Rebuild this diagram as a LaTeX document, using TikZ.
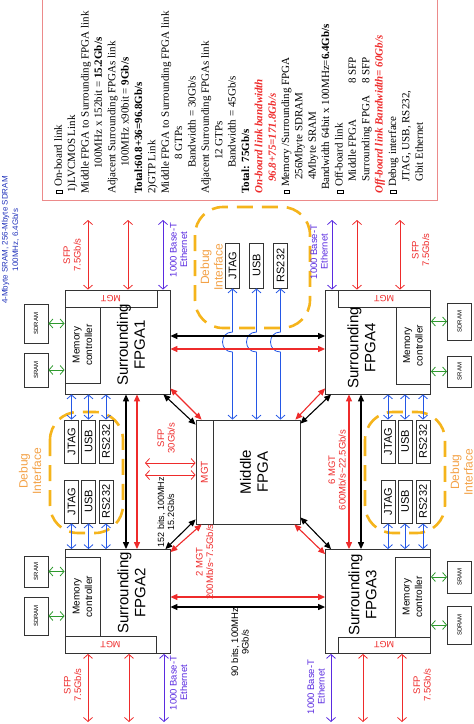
\documentclass[tikz,border=0pt]{standalone}
\usepackage{fontspec}
\setmainfont{Liberation Serif}
\setsansfont{Liberation Sans}
\usetikzlibrary{calc,arrows.meta}

\definecolor{lkred}{HTML}{EE2B2B}
\definecolor{lkpurple}{HTML}{5A2BE0}
\definecolor{lkblue}{HTML}{2457E6}
\definecolor{lkgreen}{HTML}{2E9A2E}
\definecolor{dbgorange}{HTML}{F5B41C}
\definecolor{dbgtext}{HTML}{F3A248}
\definecolor{legpink}{HTML}{EC8A8A}
\definecolor{memblue}{HTML}{2233BB}

\newcommand{\lgbox}{{\fboxsep=0pt\fboxrule=0.6pt\fbox{\rule{0pt}{5pt}\rule{3pt}{0pt}}}}

\tikzset{
	box/.style={draw=black!80, line width=0.8pt, fill=white, inner sep=0pt, font=\sffamily},
	fpga/.style={box, minimum width=105pt, minimum height=104pt},
	fpgatxt/.style={rotate=90, align=center, inner sep=0pt, font=\sffamily\fontsize{15}{17}\selectfont},
	mgtbox/.style={box, text=lkred, font=\sffamily\fontsize{9}{10}\selectfont},
	ctrlbox/.style={box, rotate=90, align=center, font=\sffamily\fontsize{10}{12.5}\selectfont},
	membox/.style={box, rotate=90, minimum width=#1, minimum height=24pt, font=\sffamily\fontsize{6}{7}\selectfont},
	dbgbox/.style={box, rotate=90, minimum width=#1, minimum height=14pt, font=\sffamily\fontsize{11}{12}\selectfont},
	lbl/.style={rotate=90, align=center, inner sep=0pt, font=\sffamily\fontsize{9.5}{10.5}\selectfont},
	dbglbl/.style={lbl, text=dbgtext, font=\sffamily\fontsize{12}{13.5}\selectfont},
	legend/.style={rotate=90, anchor=north west, align=left, inner sep=0pt, font=\fontsize{11}{13.37}\selectfont},
	onlink/.style={line width=1.1pt, {Triangle[length=7pt,width=6pt]}-{Triangle[length=7pt,width=6pt]}},
	offlink/.style={line width=0.8pt, {Straight Barb[length=4pt,width=9pt]}-{Straight Barb[length=4pt,width=9pt]}},
	memlink/.style={offlink, lkgreen},
	dbglink/.style={offlink, lkblue},
	dbgline/.style={dbgorange, line width=2.6pt, dash pattern=on 16pt off 9pt, rounded corners=28pt},
}

\begin{document}
\begin{tikzpicture}[x=1pt, y=-1pt]
	\useasboundingbox (0,0) rectangle (474,724);
	
	%%%%% LEGEND %%%%%
	\draw[legpink, line width=1pt] (42,-2) -- (42,200) -- (437,200) -- (437,-2);
	\node[legend] (legtxt) at (54,194) {%
		\lgbox\ On-board link\\
		\hspace*{1pt}1)LVCMOS Link\\
		Middle FPGA to Surrounding FPGA link\\
		\hspace*{25pt}100MHz x 152bit = \textbf{15.2Gb/s}\\
		Adjacent Surrounding FPGAs link\\
		\hspace*{27pt}100MHz x90bit = \textbf{9Gb/s}\\
		\textbf{Total:60.8+36=96.8Gb/s}\\
		2)GTP Link\\
		Middle FPGA to Surrounding FPGA link\\
		\hspace*{34pt}8 GTPs\\
		\hspace*{26pt}Bandwidth = 30Gb/s\\
		Adjacent Surrounding FPGAs link\\
		\hspace*{34pt}12 GTPs\\
		\hspace*{26pt}Bandwidth = 45Gb/s\\
		\textbf{Total: 75Gb/s}\\
		\textcolor{lkred}{\bfseries\itshape On-board link bandwidth}\\
		\hspace*{12pt}\textcolor{lkred}{\bfseries\itshape 96.8+75=171.8Gb/s}\\
		\lgbox\ Memory /Surrounding FPGA\\
		\hspace*{14pt}256Mbyte SDRAM\\
		\hspace*{14pt}4Mbyte SRAM\\
		\hspace*{4pt}Bandwidth 64bit x 100MHz=\textbf{6.4Gb/s}\\
		\lgbox\ Off-board link\\
		\hspace*{12pt}\makebox[98pt][l]{Middle FPGA}8 SFP\\
		\hspace*{12pt}\makebox[98pt][l]{Surrounding FPGA}8 SFP\\
		\textcolor{lkred}{\bfseries\itshape Off-board link Bandwidth= 60Gb/s}\\
		\lgbox\ Debug interface\\
		\hspace*{12pt}JTAG, USB, RS232,\\
		\hspace*{12pt}Gbit Ethernet};
	
	%%%%% DEBUG AREAS %%%%%
	\draw[dbgline] (195,207) rectangle (310,328);
	\draw[dbgline] (50,412) rectangle (123,533);
	\draw[dbgline] (365,412) rectangle (445,533);
	
	%%%%% FPGAS %%%%%
	\node[fpga] (fpga1) at (117.5,342) {};
	\node[fpga] (fpga4) at (378,342) {};
	\node[fpga] (fpga2) at (117.5,601.5) {};
	\node[fpga] (fpga3) at (378,601.5) {};
	\node[fpga, minimum width=104pt] (mid) at (248,472) {};
	
	\node[mgtbox, rotate=180, minimum width=92pt, minimum height=17pt] (mgt1) at (111,298.5) {MGT};
	\node[mgtbox, rotate=180, minimum width=92pt, minimum height=17pt] (mgt4) at (384,298.5) {MGT};
	\node[mgtbox, rotate=180, minimum width=91pt, minimum height=17pt] (mgt2) at (110.5,644.5) {MGT};
	\node[mgtbox, rotate=180, minimum width=92pt, minimum height=16pt] (mgt3) at (384,645) {MGT};
	\node[mgtbox, rotate=90, minimum width=104pt, minimum height=17pt, font=\sffamily\fontsize{10}{11}\selectfont] (mgtm) at (204.5,472) {MGT};
	
	\node[ctrlbox, minimum width=76pt, minimum height=35pt] (mc1) at (82.5,345) {Memory\\controller};
	\node[ctrlbox, minimum width=77pt, minimum height=34pt] (mc4) at (413,345.5) {Memory\\controller};
	\node[ctrlbox, minimum width=79pt, minimum height=35pt] (mc2) at (82.5,596.5) {Memory\\controller};
	\node[ctrlbox, minimum width=80pt, minimum height=35pt] (mc3) at (412.5,597) {Memory\\controller};
	
	\node[fpgatxt] (fpga1txt) at (131,345) {Surrounding\\FPGA1};
	\node[fpgatxt] (fpga4txt) at (361.5,348) {Surrounding\\FPGA4};
	\node[fpgatxt] (fpga2txt) at (131.5,593) {Surrounding\\FPGA2};
	\node[fpgatxt] (fpga3txt) at (362.5,595) {Surrounding\\FPGA3};
	\node[fpgatxt] (midtxt) at (254,472) {Middle\\FPGA};
	
	%%%%% MEMORIES %%%%%
	\node[membox=39pt] (sd1) at (36,323.5) {SDRAM};
	\node[membox=34pt] (sr1) at (36,370) {SRAM};
	\node[membox=31pt] (sr2) at (36,571.5) {SRAM};
	\node[membox=38pt] (sd2) at (36,616) {SDRAM};
	\node[membox=37pt] (sd4) at (459.5,321.5) {SDRAM};
	\node[membox=31pt] (sr4) at (459.5,371.5) {SRAM};
	\node[membox=32pt] (sr3) at (459.5,577) {SRAM};
	\node[membox=38pt] (sd3) at (459.5,625) {SDRAM};
	
	\draw[memlink] (sd1) -- (fpga1.west |- sd1);
	\draw[memlink] (sr1) -- (fpga1.west |- sr1);
	\draw[memlink] (sr2) -- (fpga2.west |- sr2);
	\draw[memlink] (sd2) -- (fpga2.west |- sd2);
	\draw[memlink] (sd4) -- (fpga4.east |- sd4);
	\draw[memlink] (sr4) -- (fpga4.east |- sr4);
	\draw[memlink] (sr3) -- (fpga3.east |- sr3);
	\draw[memlink] (sd3) -- (fpga3.east |- sd3);
	
	%%%%% DEBUG PORTS %%%%%
	\node[dbgbox=43pt] (jt1) at (71.5,441.5) {JTAG};
	\node[dbgbox=43pt] (us1) at (88.5,441.5) {USB};
	\node[dbgbox=43pt] (rs1) at (106,441.5) {RS232};
	\node[dbgbox=43pt] (jt2) at (71.5,501.5) {JTAG};
	\node[dbgbox=43pt] (us2) at (88.5,501.5) {USB};
	\node[dbgbox=43pt] (rs2) at (106,501.5) {RS232};
	\node[dbgbox=43pt] (jt4) at (388,441.5) {JTAG};
	\node[dbgbox=43pt] (us4) at (405,441.5) {USB};
	\node[dbgbox=43pt] (rs4) at (423,441.5) {RS232};
	\node[dbgbox=43pt] (jt3) at (388,501.5) {JTAG};
	\node[dbgbox=43pt] (us3) at (405,501.5) {USB};
	\node[dbgbox=43pt] (rs3) at (423,501.5) {RS232};
	\node[dbgbox=45pt] (jtm) at (232.5,265.5) {JTAG};
	\node[dbgbox=45pt] (usm) at (256.5,265.5) {USB};
	\node[dbgbox=45pt] (rsm) at (280.5,265.5) {RS232};
	
	\draw[dbglink] (fpga1.south -| jt1) -- (jt1);
	\draw[dbglink] (fpga1.south -| us1) -- (us1);
	\draw[dbglink] (fpga1.south -| rs1) -- (rs1);
	\draw[dbglink] (jt2) -- (fpga2.north -| jt2);
	\draw[dbglink] (us2) -- (fpga2.north -| us2);
	\draw[dbglink] (rs2) -- (fpga2.north -| rs2);
	\draw[dbglink] (fpga4.south -| jt4) -- (jt4);
	\draw[dbglink] (fpga4.south -| us4) -- (us4);
	\draw[dbglink] (fpga4.south -| rs4) -- (rs4);
	\draw[dbglink] (jt3) -- (fpga3.north -| jt3);
	\draw[dbglink] (us3) -- (fpga3.north -| us3);
	\draw[dbglink] (rs3) -- (fpga3.north -| rs3);
	
	% jumps over the FPGA1-FPGA4 links
	\coordinate (hopA) at (0,332);
	\coordinate (hopB) at (0,352);
	\draw[dbglink] (jtm.west) -- (jtm |- hopA) .. controls +(-13.3,0) and +(-13.3,0) .. (jtm |- hopB) -- (mid.north -| jtm);
	\draw[dbglink] (usm.west) -- (usm |- hopA) .. controls +(-13.3,0) and +(-13.3,0) .. (usm |- hopB) -- (mid.north -| usm);
	\draw[dbglink] (rsm.west) -- (rsm |- hopA) .. controls +(-13.3,0) and +(-13.3,0) .. (rsm |- hopB) -- (mid.north -| rsm);
	
	%%%%% ON-BOARD LINKS %%%%%
	\coordinate (hb1) at (0,336);
	\coordinate (hr1) at (0,349);
	\coordinate (hr2) at (0,597);
	\coordinate (hb2) at (0,607);
	\coordinate (vb1) at (126,0);
	\coordinate (vr1) at (137,0);
	\coordinate (vr4) at (349,0);
	\coordinate (vb4) at (361,0);
	
	\draw[onlink] (fpga1.east |- hb1) -- (fpga4.west |- hb1);
	\draw[onlink, lkred] (fpga1.east |- hr1) -- (fpga4.west |- hr1);
	\draw[onlink, lkred] (fpga2.east |- hr2) -- (fpga3.west |- hr2);
	\draw[onlink] (fpga2.east |- hb2) -- (fpga3.west |- hb2);
	\draw[onlink] (fpga1.south -| vb1) -- (fpga2.north -| vb1);
	\draw[onlink, lkred] (fpga1.south -| vr1) -- (fpga2.north -| vr1);
	\draw[onlink, lkred] (fpga4.south -| vr4) -- (fpga3.north -| vr4);
	\draw[onlink] (fpga4.south -| vb4) -- (fpga3.north -| vb4);
	
	\draw[onlink] ($(fpga1.south east)+(-7,0)$) -- ($(mid.north west)+(0,5)$);
	\draw[onlink, lkred] ($(fpga1.south east)+(0,-6)$) -- ($(mid.north west)+(6,0)$);
	\draw[onlink, lkred] ($(mid.north east)+(-5,0)$) -- ($(fpga4.south west)+(0,-6)$);
	\draw[onlink] ($(mid.north east)+(0,4)$) -- ($(fpga4.south west)+(6,0)$);
	\draw[onlink] ($(mid.south west)+(0,-5)$) -- ($(fpga2.north east)+(-5,0)$);
	\draw[onlink, lkred] ($(mid.south west)+(6,0)$) -- ($(fpga2.north east)+(0,3)$);
	\draw[onlink] ($(mid.south east)+(0,-7)$) -- ($(fpga3.north west)+(6,0)$);
	\draw[onlink, lkred] ($(mid.south east)+(-6,0)$) -- ($(fpga3.north west)+(0,5)$);
	
	%%%%% OFF-BOARD LINKS %%%%%
	\coordinate (s1a) at (88,220);
	\coordinate (s1b) at (128,220);
	\coordinate (e1) at (163,220);
	\coordinate (s4a) at (357,220);
	\coordinate (s4b) at (400,220);
	\coordinate (e4) at (332,220);
	\coordinate (s2a) at (88,722);
	\coordinate (s2b) at (129,722);
	\coordinate (e2) at (164,722);
	\coordinate (s3a) at (363,722);
	\coordinate (s3b) at (402,722);
	\coordinate (e3) at (331,722);
	\coordinate (smA) at (145,463);
	\coordinate (smB) at (145,475);
	
	\draw[offlink, lkred] (s1a) -- (fpga1.north -| s1a);
	\draw[offlink, lkred] (s1b) -- (fpga1.north -| s1b);
	\draw[offlink, lkpurple] (e1) -- (fpga1.north -| e1);
	\draw[offlink, lkred] (s4a) -- (fpga4.north -| s4a);
	\draw[offlink, lkred] (s4b) -- (fpga4.north -| s4b);
	\draw[offlink, lkpurple] (e4) -- (fpga4.north -| e4);
	\draw[offlink, lkred] (fpga2.south -| s2a) -- (s2a);
	\draw[offlink, lkred] (fpga2.south -| s2b) -- (s2b);
	\draw[offlink, lkpurple] (fpga2.south -| e2) -- (e2);
	\draw[offlink, lkred] (fpga3.south -| s3a) -- (s3a);
	\draw[offlink, lkred] (fpga3.south -| s3b) -- (s3b);
	\draw[offlink, lkpurple] (fpga3.south -| e3) -- (e3);
	\draw[offlink, lkred] (smA) -- (mid.west |- smA);
	\draw[offlink, lkred] (smB) -- (mid.west |- smB);
	
	%%%%% LABELS %%%%%
	\node[lbl, text=lkred] (sfp1lbl) at (72,255) {SFP\\7.5Gb/s};
	\node[lbl, text=lkred] (sfp4lbl) at (420.5,250) {SFP\\7.5Gb/s};
	\node[lbl, text=lkred] (sfp2lbl) at (72.5,685) {SFP\\7.5Gb/s};
	\node[lbl, text=lkred] (sfp3lbl) at (422,685) {SFP\\7.5Gb/s};
	\node[lbl, text=lkpurple] (eth1lbl) at (178.5,250) {1000 Base-T\\Ethernet};
	\node[lbl, text=lkpurple] (eth4lbl) at (319,252) {1000 Base-T\\Ethernet};
	\node[lbl, text=lkpurple] (eth2lbl) at (178.5,683) {1000 Base-T\\Ethernet};
	\node[lbl, text=lkpurple] (eth3lbl) at (316,687) {1000 Base-T\\Ethernet};
	\node[lbl, text=lkred] (sfpmlbl) at (166,438) {SFP\\30Gb/s};
	\node[lbl, font=\sffamily\fontsize{9}{10}\selectfont] (lvds1lbl) at (166,512) {152 bits, 100MHz\\15.2Gb/s};
	\node[lbl, text=lkred] (gtp2lbl) at (204.5,562) {2 MGT\\200Mb/s\textasciitilde7.5Gb/s};
	\node[lbl, text=lkred] (gtp6lbl) at (337,470) {6 MGT\\600Mb/s\textasciitilde22.5Gb/s};
	\node[lbl] (lvds2lbl) at (240,642) {90 bits, 100MHz\\9Gb/s};
	\node[lbl, text=memblue, font=\sffamily\fontsize{8}{10.5}\selectfont] (memlbl) at (10.5,240) {4-Mbyte SRAM, 256-Mbyte SDRAM\\100MHz, 6.4Gb/s};
	
	\node[dbglbl] (dbg1lbl) at (30,471) {Debug\\Interface};
	\node[dbglbl] (dbg3lbl) at (461.5,472) {Debug\\Interface};
	\node[dbglbl] (dbgmlbl) at (211.5,267) {Debug\\Interface};
	
\end{tikzpicture}
\end{document}
